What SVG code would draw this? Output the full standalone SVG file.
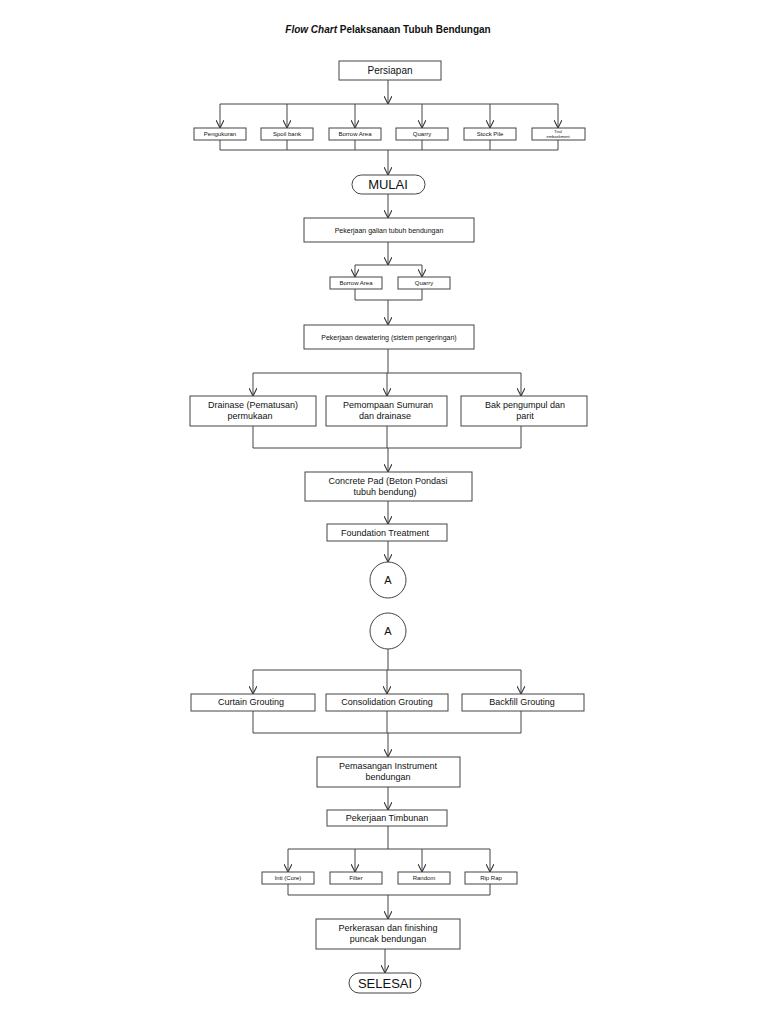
<svg xmlns="http://www.w3.org/2000/svg" width="768" height="1024" viewBox="0 0 768 1024">
<defs><marker id="ah" viewBox="0 0 10 10" refX="10" refY="5" markerWidth="8" markerHeight="8" orient="auto" markerUnits="userSpaceOnUse"><path d="M0,0 L10,5 L0,10" fill="none" stroke="#333" stroke-width="1.3"/></marker></defs>
<style>
text{font-family:"Liberation Sans",Arial,sans-serif;fill:#111;text-anchor:middle}
rect,ellipse,.t{fill:#fff;stroke:#444;stroke-width:1}
.s{font-size:6px}.m{font-size:9px}.l{font-size:13px}
#c path{fill:none;stroke:#444;stroke-width:1}
.a{marker-end:url(#ah)}
</style>
<rect x="0" y="0" width="768" height="1024" style="stroke:none"/>
<text x="388" y="33" style="font-size:10px;font-weight:bold"><tspan font-style="italic">Flow Chart</tspan> Pelaksanaan Tubuh Bendungan</text>
<g id="c">
<path class="a" d="M388,80V104"/>
<path d="M220,104H558"/>
<path class="a" d="M220,104V128"/><path class="a" d="M287,104V128"/><path class="a" d="M355,104V128"/><path class="a" d="M422,104V128"/><path class="a" d="M490,104V128"/><path class="a" d="M558,104V128"/>
<path d="M220,140V150M287,140V150M355,140V150M422,140V150M490,140V150M558,140V150M220,150H558"/>
<path class="a" d="M388,150V175"/>
<path class="a" d="M388,194V218"/>
<path class="a" d="M388,242V265"/>
<path d="M355,265H422"/><path class="a" d="M355,265V277"/><path class="a" d="M422,265V277"/>
<path d="M355,289V300H422V289"/><path class="a" d="M388,300V325"/>
<path d="M388,349V373M253,373H521"/>
<path class="a" d="M253,373V396"/><path class="a" d="M387,373V396"/><path class="a" d="M521,373V396"/>
<path d="M253,426V448M387,426V448M521,426V448M253,448H521"/>
<path class="a" d="M388,448V472"/>
<path class="a" d="M388,501V524"/>
<path class="a" d="M388,541V562"/>
<path d="M388,649V670M253,670H521"/>
<path class="a" d="M253,670V694"/><path class="a" d="M387,670V694"/><path class="a" d="M521,670V694"/>
<path d="M253,711V733M387,711V733M521,711V733M253,733H521"/>
<path class="a" d="M388,733V757"/>
<path class="a" d="M388,787V810"/>
<path d="M388,826V849M288,849H490"/>
<path class="a" d="M288,849V872"/><path class="a" d="M355,849V872"/><path class="a" d="M422,849V872"/><path class="a" d="M490,849V872"/>
<path d="M288,884V895M490,884V895M288,895H490"/>
<path class="a" d="M388,895V919"/>
<path class="a" d="M385,949V973"/>
</g>
<g id="persiapan"><rect x="339" y="61" width="102" height="19"/><text class="m" x="390" y="74" style="font-size:10px">Persiapan</text></g>
<g id="pengukuran"><rect x="194" y="128" width="52" height="12"/><text class="s" x="220" y="136">Pengukuran</text></g>
<g id="spoil"><rect x="261" y="128" width="52" height="12"/><text class="s" x="287" y="136">Spoil bank</text></g>
<g id="borrow1"><rect x="329" y="128" width="52" height="12"/><text class="s" x="355" y="136">Borrow Area</text></g>
<g id="quarry1"><rect x="396" y="128" width="52" height="12"/><text class="s" x="422" y="136">Quarry</text></g>
<g id="stock"><rect x="464" y="128" width="52" height="12"/><text class="s" x="490" y="136">Stock Pile</text></g>
<g id="trial"><rect x="532" y="128" width="53" height="12"/><text x="558" y="133" style="font-size:4px">Trial</text><text x="558" y="138" style="font-size:4px">embankment</text></g>
<g id="mulai"><rect x="352" y="175" width="73" height="19" rx="9.5"/><text class="l" x="388" y="189">MULAI</text></g>
<g id="galian"><rect x="304" y="218" width="170" height="24"/><text class="s" x="389" y="233" style="font-size:7px">Pekerjaan galian tubuh bendungan</text></g>
<g id="borrow2"><rect x="330" y="277" width="52" height="12"/><text class="s" x="356" y="285">Borrow Area</text></g>
<g id="quarry2"><rect x="398" y="277" width="52" height="12"/><text class="s" x="424" y="285">Quarry</text></g>
<g id="dewatering"><rect x="304" y="325" width="170" height="24"/><text class="s" x="389" y="340" style="font-size:7px">Pekerjaan dewatering (sistem pengeringan)</text></g>
<g id="drainase"><rect x="190" y="396" width="126" height="30"/><text class="m" x="253" y="408">Drainase (Pematusan)</text><text class="m" x="250" y="419">permukaan</text></g>
<g id="pemompaan"><rect x="326" y="396" width="121" height="30"/><text class="m" x="388" y="408">Pemompaan Sumuran</text><text class="m" x="385" y="419">dan drainase</text></g>
<g id="bak"><rect x="461" y="396" width="126" height="30"/><text class="m" x="525" y="408">Bak pengumpul dan</text><text class="m" x="525" y="419">parit</text></g>
<g id="concrete"><rect x="305" y="472" width="167" height="29"/><text class="m" x="388" y="484">Concrete Pad (Beton Pondasi</text><text class="m" x="385" y="495">tubuh bendung)</text></g>
<g id="foundation"><rect x="327" y="524" width="120" height="17"/><text class="m" x="385" y="536">Foundation Treatment</text></g>
<g id="a1"><circle class="t" cx="388" cy="580" r="18"/><text x="388" y="584" style="font-size:11px">A</text></g>
<g id="a2"><circle class="t" cx="388" cy="631" r="18"/><text x="388" y="635" style="font-size:11px">A</text></g>
<g id="curtain"><rect x="191" y="694" width="124" height="17"/><text class="m" x="251" y="705">Curtain Grouting</text></g>
<g id="consolidation"><rect x="326" y="694" width="122" height="17"/><text class="m" x="387" y="705">Consolidation Grouting</text></g>
<g id="backfill"><rect x="462" y="694" width="122" height="17"/><text class="m" x="522" y="705">Backfill Grouting</text></g>
<g id="instrument"><rect x="317" y="757" width="143" height="30"/><text class="m" x="388" y="769">Pemasangan Instrument</text><text class="m" x="388" y="780">bendungan</text></g>
<g id="timbunan"><rect x="327" y="810" width="120" height="16"/><text class="m" x="387" y="821">Pekerjaan Timbunan</text></g>
<g id="inti"><rect x="262" y="872" width="52" height="12"/><text class="s" x="288" y="880">Inti (Core)</text></g>
<g id="filter"><rect x="330" y="872" width="52" height="12"/><text class="s" x="356" y="880">Filter</text></g>
<g id="random"><rect x="398" y="872" width="52" height="12"/><text class="s" x="424" y="880">Random</text></g>
<g id="riprap"><rect x="465" y="872" width="52" height="12"/><text class="s" x="491" y="880">Rip Rap</text></g>
<g id="perkerasan"><rect x="316" y="919" width="144" height="30"/><text class="m" x="388" y="931">Perkerasan dan finishing</text><text class="m" x="388" y="942">puncak bendungan</text></g>
<g id="selesai"><rect x="349" y="973" width="72" height="20" rx="10"/><text class="l" x="385" y="988">SELESAI</text></g>
</svg>
